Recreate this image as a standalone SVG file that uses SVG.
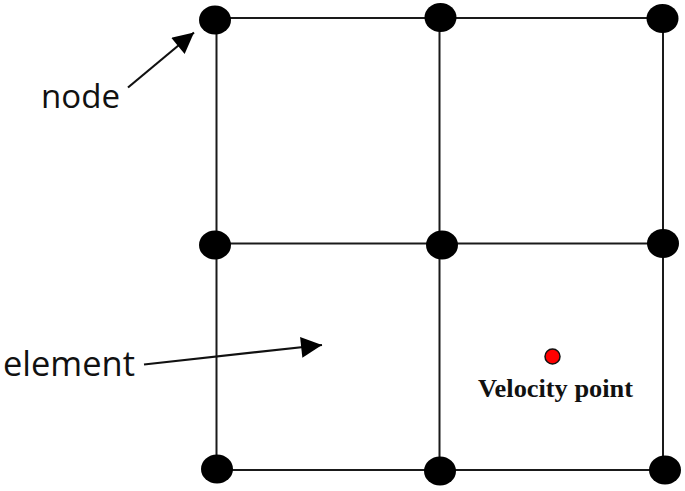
<svg xmlns="http://www.w3.org/2000/svg" width="685" height="491" viewBox="0 0 685 491">
<style>
.grid{stroke:#1a1a1a;stroke-width:2;fill:none}
.node{fill:#000}
.lbl{font-family:"Open Sans","DejaVu Sans",sans-serif;fill:#111}
.arr{stroke:#111;stroke-width:2.2;fill:none}
.vp{font-family:"Liberation Serif","Times New Roman",serif;font-weight:bold;fill:#111}
</style>
<defs>
<marker id="ah" viewBox="0 0 10 10" refX="10" refY="5" markerWidth="10" markerHeight="9.5" markerUnits="strokeWidth" orient="auto">
<path d="M0,0 L10,5 L0,10 Z" fill="#000"/>
</marker>
</defs>
<rect width="685" height="491" fill="#fff"/>
<g id="connectors">
<line class="grid" x1="216.5" y1="18" x2="663" y2="18"/>
<line class="grid" x1="216.5" y1="243.5" x2="663" y2="243.5"/>
<line class="grid" x1="216.5" y1="470" x2="663" y2="470"/>
<line class="grid" x1="216.5" y1="18" x2="216.5" y2="470"/>
<line class="grid" x1="439.5" y1="18" x2="439.5" y2="470"/>
<line class="grid" x1="663" y1="18" x2="663" y2="470"/>
<line class="arr" x1="128" y1="87.5" x2="194" y2="32.5" marker-end="url(#ah)"/>
<line class="arr" x1="144" y1="364.5" x2="322" y2="345" marker-end="url(#ah)"/>
</g>
<g id="n1"><ellipse class="node" cx="215" cy="20" rx="16" ry="14.5"/></g>
<g id="n2"><ellipse class="node" cx="440.5" cy="17.5" rx="16" ry="14.5"/></g>
<g id="n3"><ellipse class="node" cx="662.5" cy="18.5" rx="16" ry="14.5"/></g>
<g id="n4"><ellipse class="node" cx="215" cy="245" rx="16" ry="14.5"/></g>
<g id="n5"><ellipse class="node" cx="442" cy="245" rx="16" ry="14.5"/></g>
<g id="n6"><ellipse class="node" cx="663" cy="243.5" rx="16" ry="14.5"/></g>
<g id="n7"><ellipse class="node" cx="217" cy="469" rx="16" ry="14.5"/></g>
<g id="n8"><ellipse class="node" cx="440" cy="471" rx="16" ry="14.5"/></g>
<g id="n9"><ellipse class="node" cx="665" cy="470" rx="16" ry="14.5"/></g>
<g id="velocity-point">
<circle cx="552.5" cy="356.5" r="7.5" fill="#f00" stroke="#111" stroke-width="1.5"/>
<text class="vp" x="555.5" y="397" font-size="25" text-anchor="middle" textLength="155" lengthAdjust="spacingAndGlyphs">Velocity point</text>
</g>
<g id="label-node"><text class="lbl" x="41" y="108" font-size="33" textLength="79" lengthAdjust="spacingAndGlyphs">node</text></g>
<g id="label-element"><text class="lbl" x="3" y="376" font-size="34" textLength="132" lengthAdjust="spacingAndGlyphs">element</text></g>
</svg>
